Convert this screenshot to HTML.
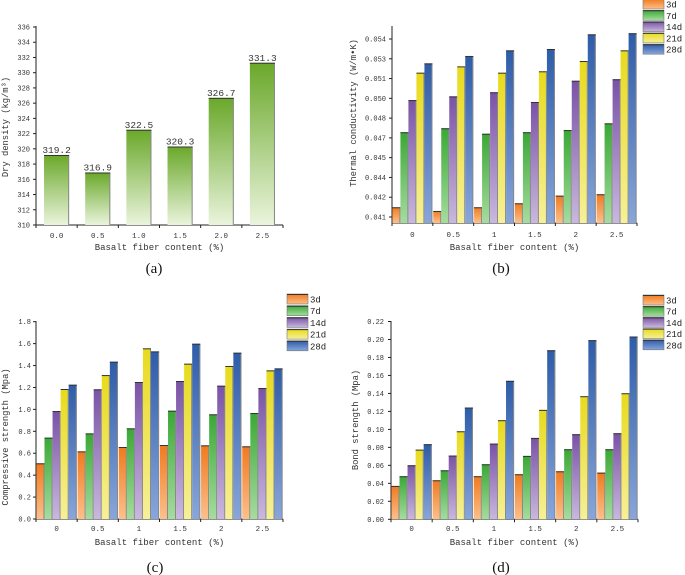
<!DOCTYPE html>
<html><head><meta charset="utf-8">
<style>
html,body{margin:0;padding:0;background:#fff;}
svg{display:block;}
.t{font-family:"Liberation Mono",monospace;fill:#333;}
.p{font-family:"Liberation Serif",serif;fill:#111;font-size:15px;}
.l{font-family:"Liberation Mono",monospace;fill:#222;}
</style></head>
<body>
<svg id="fig" width="685" height="575" viewBox="0 0 685 575" xmlns="http://www.w3.org/2000/svg">
<defs>
<linearGradient id="gA" x1="0" y1="0" x2="0" y2="1"><stop offset="0" stop-color="#6aa82a"/><stop offset="1" stop-color="#eaf4dc"/></linearGradient>
<linearGradient id="g0" x1="0" y1="0" x2="0" y2="1"><stop offset="0" stop-color="#f07a1e"/><stop offset="1" stop-color="#fcc08c"/></linearGradient>
<linearGradient id="g1" x1="0" y1="0" x2="0" y2="1"><stop offset="0" stop-color="#3aa835"/><stop offset="1" stop-color="#a6dca0"/></linearGradient>
<linearGradient id="g2" x1="0" y1="0" x2="0" y2="1"><stop offset="0" stop-color="#7a52a6"/><stop offset="1" stop-color="#c9b8de"/></linearGradient>
<linearGradient id="g3" x1="0" y1="0" x2="0" y2="1"><stop offset="0" stop-color="#e8da1c"/><stop offset="1" stop-color="#f6f098"/></linearGradient>
<linearGradient id="g4" x1="0" y1="0" x2="0" y2="1"><stop offset="0" stop-color="#2e5ca8"/><stop offset="1" stop-color="#88a6da"/></linearGradient>
</defs>
</svg>
<script>
// Panel (a) data
const catsA = ["0.0","0.5","1.0","1.5","2.0","2.5"];
const densityVals = [319.2,316.9,322.5,320.3,326.7,331.3];
const ticksA = [310,312,314,316,318,320,322,324,326,328,330,332,334,336];
// Shared categories
const catsG = ["0","0.5","1","1.5","2","2.5"];
const seriesNames = ["3d","7d","14d","21d","28d"];
// Panel (b) thermal conductivity
const thermal3d = [0.04171,0.04144,0.04171,0.0420,0.04256,0.04266];
const thermal7d = [0.04719,0.04748,0.04708,0.04719,0.04735,0.04784];
const thermal14d = [0.04954,0.04981,0.05011,0.0494,0.05095,0.05106];
const thermal21d = [0.05154,0.0520,0.05154,0.05164,0.05239,0.05317];
const thermal28d = [0.05222,0.05276,0.05317,0.05327,0.05434,0.05442];
const ticksBLabels = ["0.041","0.042","0.044","0.045","0.047","0.048","0.050","0.051","0.053","0.054"];
// Panel (c) compressive strength
const comp3d = [0.508,0.617,0.657,0.675,0.672,0.663];
const comp7d = [0.742,0.781,0.827,0.988,0.955,0.967];
const comp14d = [0.985,1.183,1.25,1.259,1.216,1.195];
const comp21d = [1.186,1.313,1.557,1.417,1.396,1.356];
const comp28d = [1.225,1.435,1.529,1.599,1.517,1.374];
const ticksC = ["0.0","0.2","0.4","0.6","0.8","1.0","1.2","1.4","1.6","1.8"];
// Panel (d) bond strength
const bond3d = [0.0371,0.0434,0.0479,0.0501,0.0534,0.0519];
const bond7d = [0.0479,0.0545,0.0612,0.0705,0.0779,0.0779];
const bond14d = [0.0601,0.0709,0.0842,0.0905,0.0946,0.0957];
const bond21d = [0.0775,0.0979,0.1102,0.1217,0.1369,0.1402];
const bond28d = [0.0835,0.1243,0.154,0.188,0.1992,0.2033];
const ticksD = ["0.00","0.02","0.04","0.06","0.08","0.10","0.12","0.14","0.16","0.18","0.20","0.22"];

const svg = document.getElementById('fig');
const NS = "http://www.w3.org/2000/svg";
function mk(tag, attrs, parent){
  const e = document.createElementNS(NS, tag);
  for (const k in attrs) e.setAttribute(k, attrs[k]);
  (parent||svg).appendChild(e);
  return e;
}
function txt(s, x, y, size, anchor, parent, cls){
  const e = mk('text', {x:x, y:y, 'font-size':size, 'text-anchor':anchor||'middle', class:cls||'t'}, parent);
  e.textContent = s;
  return e;
}

function axes(g, x0, x1, yTop, yBot, tickYs, tickLabels, nCats, catLabels, labelY, titleY, xTitle, yTitle, yTitleX, yTitleY, labelRight){
  const ax = mk('g', {}, g);
  
  
  mk('line', {x1:x0, y1:yTop, x2:x0, y2:yBot, stroke:'#222', 'stroke-width':1}, ax);
  mk('line', {x1:x0, y1:yBot, x2:x1, y2:yBot, stroke:'#222', 'stroke-width':1}, ax);
  tickYs.forEach((y, i) => {
    mk('line', {x1:x0-3, y1:y, x2:x0, y2:y, stroke:'#222', 'stroke-width':1}, ax);
    const t = txt(tickLabels[i], labelRight, y+2.5, 7, 'end', ax);
    
    
  });
  const bw = (x1 - x0) / nCats;
  for (let i = 0; i <= nCats; i++) {
    mk('line', {x1:x0+i*bw, y1:yBot, x2:x0+i*bw, y2:yBot+3, stroke:'#222', 'stroke-width':1}, ax);
  }
  catLabels.forEach((c, i) => {
    const t = txt(c, x0 + (i+0.5)*bw, labelY, 7.5, 'middle', ax);
    
    
  });
  const xt = txt(xTitle, (x0+x1)/2, titleY, 9, 'middle', ax);
  
  
  const yt = txt(yTitle, yTitleX, yTitleY, 8.8, 'middle', ax);
  yt.setAttribute('transform', 'rotate(-90 ' + yTitleX + ' ' + yTitleY + ')');
  
  
}

function bar(g, x, w, yTop, yBot, fill){
  const b = mk('g', {}, g);
  mk('rect', {x:x, y:yTop, width:w, height:Math.max(0,yBot-yTop), fill:fill}, b);
  mk('line', {x1:x+w-0.5, y1:yTop+1, x2:x+w-0.5, y2:yBot, stroke:'#888', 'stroke-width':1}, b);
  mk('line', {x1:x, y1:yTop+0.5, x2:x+w, y2:yTop+0.5, stroke:'#333', 'stroke-width':1}, b);
  return b;
}

function legend(g, bx, by, pitch){
  const lg = mk('g', {}, g);
  
  
  seriesNames.forEach((n, i) => {
    const it = mk('g', {}, lg);
    
    
    mk('rect', {x:bx, y:by+i*pitch, width:21, height:10, fill:'url(#g'+i+')', stroke:'#777', 'stroke-width':0.6}, it);
    mk('line', {x1:bx, y1:by+i*pitch+0.5, x2:bx+21, y2:by+i*pitch+0.5, stroke:'#333', 'stroke-width':1}, it);
    txt(n, bx+23, by+i*pitch+8.5, 9, 'start', it, 'l');
  });
}

// ---------- Panel (a)
(function(){
  const g = mk('g', {});
  
  
  const x0 = 36, x1 = 283, yTop = 26, y0 = 225, y1 = 27;
  const vmin = 310, vmax = 336;
  const ys = v => y0 - (v - vmin) / (vmax - vmin) * (y0 - y1);
  axes(g, x0, x1, yTop, y0, ticksA.map(ys), ticksA.map(String), catsA.length, catsA, 238, 250,
       "Basalt fiber content (%)", "Dry density (kg/m³)", 8, 127, 30);
  const bw = (x1 - x0) / catsA.length;
  densityVals.forEach((v, i) => {
    const w = bw * 0.61;
    const x = x0 + (i+0.5)*bw - w/2;
    const b = bar(g, x, w, ys(v), y0, 'url(#gA)');
    
    
    const t = txt(v.toFixed(1), x0 + (i+0.5)*bw, ys(v) - 2, 9.5, 'middle', g);
    
    
  });
  const pl = txt("(a)", 154, 273, 15, 'middle', g, 'p');
  
  
})();

function grouped(name, series, x0, x1, yTop, yBot, vAtBot, vAtTop, yAtTop, tickVals, tickLabels, yTitle, ytx, yty, labelRight, labelY, titleY, plx, ply, plab, legX, legY, legP){
  const g = mk('g', {});
  
  
  const ys = v => yBot - (v - vAtBot) / (vAtTop - vAtBot) * (yBot - yAtTop);
  axes(g, x0, x1, yTop, yBot, tickVals.map(ys), tickLabels, catsG.length, catsG, labelY, titleY,
       "Basalt fiber content (%)", yTitle, ytx, yty, labelRight);
  const bw = (x1 - x0) / catsG.length;
  const w = bw * 0.98 / series.length;
  series.forEach((s, si) => {
    s.forEach((v, ci) => {
      const x = x0 + ci*bw + bw*0.01 + si*w;
      const b = bar(g, x, w, ys(v), yBot, 'url(#g'+si+')');
      
      
    });
  });
  legend(g, legX, legY, legP);
  const pl = txt(plab, plx, ply, 15, 'middle', g, 'p');
  
  
}

const ticksBVals = ticksBLabels.map((l, i) => 0.041 + i * 0.013 / 9);
grouped('panel-b-thermal-conductivity', [thermal3d, thermal7d, thermal14d, thermal21d, thermal28d],
  392, 637, 26, 223, 0.041 - 6/178*0.013, 0.054, 39, ticksBVals, ticksBLabels,
  "Thermal conductivity (W/m•K)", 356, 113, 386, 237, 250, 501, 273, "(b)", 643, -1, 11.3);

grouped('panel-c-compressive-strength', [comp3d, comp7d, comp14d, comp21d, comp28d],
  36, 283, 321, 519, 0, 1.8, 321.7, ticksC.map(Number), ticksC,
  "Compressive strength (Mpa)", 8, 437, 31, 531, 545, 155, 572, "(c)", 287, 294, 11.7);

grouped('panel-d-bond-strength', [bond3d, bond7d, bond14d, bond21d, bond28d],
  391, 638, 321, 519.3, 0, 0.22, 321.5, ticksD.map(Number), ticksD,
  "Bond strength (Mpa)", 358, 420, 384, 531, 545, 501, 572, "(d)", 643, 295, 11.2);
</script>
</body></html>
